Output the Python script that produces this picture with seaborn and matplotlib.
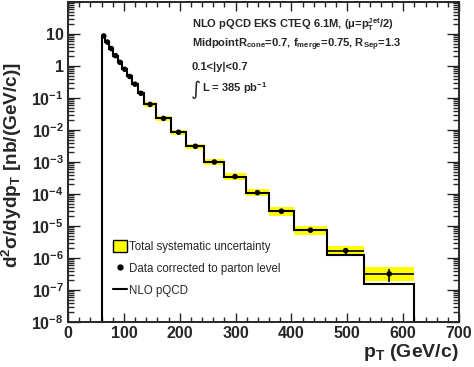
import numpy as np
import matplotlib
matplotlib.use("Agg")
import matplotlib.pyplot as plt
import seaborn as sns
from matplotlib.patches import Patch
from matplotlib.lines import Line2D
from matplotlib.ticker import LogLocator, MultipleLocator, FuncFormatter

# bin edges in pT (GeV/c)
edges = [61, 67, 74, 81, 89, 97, 106, 115, 125, 136, 158, 184, 212, 244, 280, 318, 360, 404, 464, 530, 620]
# measured cross section, nb/(GeV/c)
data = [8.7, 5.6, 3.5, 2.1, 1.3, 0.79, 0.47, 0.27, 0.14, 0.063, 0.023, 0.0085, 0.0031,
        1.0e-3, 3.5e-4, 1.1e-4, 2.9e-5, 7.4e-6, 1.7e-6, 3.2e-7]
# NLO pQCD prediction
nlo = [8.7, 5.6, 3.5, 2.1, 1.3, 0.79, 0.47, 0.27, 0.14, 0.063, 0.023, 0.0085, 0.0031,
       1.0e-3, 3.5e-4, 1.1e-4, 2.9e-5, 7.4e-6, 1.26e-6, 1.5e-7]
# systematic uncertainty, relative (up / down)
sys_up = [0.10, 0.10, 0.10, 0.11, 0.11, 0.12, 0.12, 0.13, 0.14, 0.16, 0.18, 0.20, 0.22,
          0.24, 0.26, 0.29, 0.36, 0.38, 0.43, 0.66]
sys_dn = [0.09, 0.09, 0.09, 0.10, 0.10, 0.11, 0.11, 0.12, 0.12, 0.14, 0.15, 0.17, 0.18,
          0.19, 0.21, 0.22, 0.27, 0.27, 0.25, 0.40]
# statistical uncertainty, relative
stat = [0.01, 0.01, 0.01, 0.01, 0.01, 0.01, 0.01, 0.01, 0.01, 0.01, 0.01, 0.01, 0.02,
        0.02, 0.03, 0.04, 0.05, 0.08, 0.20, 0.45]

edges = np.array(edges, dtype=float)
data = np.array(data)
nlo = np.array(nlo)
lo = edges[:-1]
width = np.diff(edges)
centers = lo + width / 2

sns.set_style("ticks")
plt.rcParams['font.family'] = ['Liberation Sans', 'DejaVu Sans']
plt.rcParams['font.weight'] = 'bold'
plt.rcParams['axes.labelweight'] = 'bold'
plt.rcParams['mathtext.fontset'] = 'custom'
plt.rcParams['mathtext.rm'] = 'Liberation Sans:bold'
plt.rcParams['mathtext.bf'] = 'Liberation Sans:bold'
plt.rcParams['mathtext.it'] = 'Liberation Sans:bold'
plt.rcParams['mathtext.default'] = 'bf'

fig = plt.figure(figsize=(4.74, 3.67), dpi=100)
ax = fig.add_axes([0.1435, 0.1226, 0.8250, 0.8720])

# systematic band
ax.bar(lo, data * (np.array(sys_up) + np.array(sys_dn)), width=width,
       bottom=data * (1 - np.array(sys_dn)), align='edge', color='#ffff00',
       edgecolor='none', zorder=1)
# NLO histogram
ax.stairs(nlo, edges, baseline=1e-9, color='black', lw=1.5, zorder=2)
# data points
ax.errorbar(centers, data, xerr=width / 2, yerr=data * np.array(stat), fmt='none',
            ecolor='black', elinewidth=1.2, zorder=3)
sns.scatterplot(x=centers, y=data, ax=ax, color='black', s=16, edgecolor='none', zorder=4)

ax.set_yscale('log')
ax.set_xlim(0, 700)
ax.set_ylim(1e-8, 1e2)

ax.xaxis.set_major_locator(MultipleLocator(100))
ax.xaxis.set_minor_locator(MultipleLocator(20))
ax.yaxis.set_major_locator(LogLocator(base=10, numticks=100))
ax.yaxis.set_minor_locator(LogLocator(base=10, subs=np.arange(2, 10), numticks=100))


def ylab(v, pos):
    e = int(round(np.log10(v)))
    if e >= 2:
        return ''
    if e == 1:
        return '10'
    if e == 0:
        return '1'
    return r'$10^{%d}$' % e


ax.yaxis.set_major_formatter(FuncFormatter(ylab))
ax.tick_params(which='both', direction='in', top=True, right=True, width=1.0,
               labelsize=11.5)
ax.tick_params(axis='y', which='major', length=8.5, pad=3)
ax.tick_params(axis='y', which='minor', length=4.3)
ax.tick_params(axis='x', which='major', length=6.5, pad=3)
ax.tick_params(axis='x', which='minor', length=3.5)
for s in ax.spines.values():
    s.set_linewidth(1.4)

ax.set_ylabel(r'd$^{2}$$\sigma$/dydp$_{T}$ [nb/(GeV/c)]', fontsize=13.7)
ax.yaxis.set_label_coords(-0.112, 0.49)
ax.set_xlabel(r'p$_{T}$ (GeV/c)', fontsize=14, loc='right')
ax.xaxis.set_label_coords(1.0, -0.063)

fs = 8
ax.text(0.317, 0.930, r'NLO pQCD EKS CTEQ 6.1M, ($\mu$=p$_{T}^{Jet}$/2)', transform=ax.transAxes,
        fontsize=fs, va='center')
ax.text(0.317, 0.865, r'MidpointR$_{cone}$=0.7, f$_{merge}$=0.75, R$_{Sep}$=1.3', transform=ax.transAxes,
        fontsize=fs, va='center')
ax.text(0.317, 0.798, '0.1<|y|<0.7', transform=ax.transAxes, fontsize=fs, va='center')
ax.text(0.313, 0.728, '\u222b', transform=ax.transAxes, fontsize=14, va='center',
        family='DejaVu Sans', fontweight='normal')
ax.text(0.343, 0.730, r'L = 385 pb$^{-1}$', transform=ax.transAxes, fontsize=fs, va='center')

handles = [Patch(facecolor='#ffff00', edgecolor='black', lw=1.0),
           Line2D([], [], marker='o', color='black', ls='none', markersize=3.5),
           Line2D([], [], color='black', lw=1.5)]
labels = ['Total systematic uncertainty', 'Data corrected to parton level', 'NLO pQCD']
ax.legend(handles, labels, loc='upper left', bbox_to_anchor=(0.115, 0.256), frameon=False,
          prop={'weight': 'normal', 'size': 8.3}, handlelength=1.2, handleheight=1.2,
          handletextpad=0.2, labelspacing=0.8, borderaxespad=0, borderpad=0)

fig.savefig('out.png', dpi=100)
